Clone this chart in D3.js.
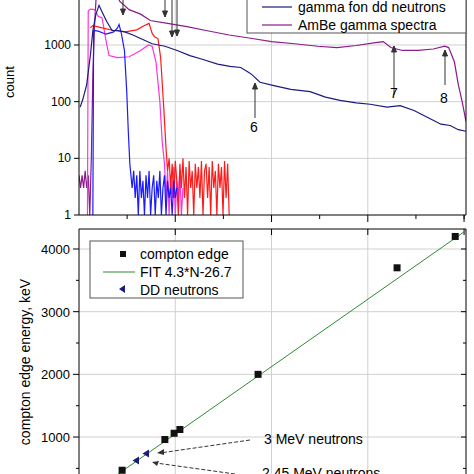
<!DOCTYPE html>
<html><head><meta charset="utf-8">
<script src="https://cdn.jsdelivr.net/npm/d3@7"></script>
<style>body{margin:0;background:#fff}svg{display:block}</style>
</head><body>
<div id="chart"></div>
<script>
// spectra: [channel, count]
const fonDD = [[3,80],[10,110],[20,200],[30,700],[36,1800],[44,3500],[52,5000],[60,3800],[72,2600],[86,1800],[100,1800],[119,1700],[140,1500],[160,1300],[190,1050],[223,950],[255,800],[288,650],[320,560],[360,460],[392,420],[420,400],[440,330],[449,300],[470,220],[509,190],[550,165],[600,150],[640,120],[678,105],[720,95],[756,90],[800,80],[834,85],[870,70],[912,50],[940,40],[964,38],[985,32],[1005,30]];
const blue = [[36,1],[38,1800],[50,1750],[70,1550],[90,1700],[100,2000],[104,2300],[110,1600],[118,800],[124,150],[128,30],[132,8],[138,3],[142,6],[146,2],[150,5],[154,1],[158,6],[162,2],[166,4],[170,1],[174,5],[178,2],[182,6],[186,1],[190,3],[194,5],[198,1],[202,4],[206,2],[210,6],[214,1],[218,3],[222,5],[226,1],[230,4],[234,2],[238,3],[242,1],[246,4],[250,2],[254,3]];
const pink = [[22,1],[24,4000],[30,4300],[40,4200],[50,3200],[60,3000],[70,1200],[78,650],[100,600],[130,620],[160,800],[180,1000],[190,950],[200,500],[210,100],[216,20],[222,8],[226,2],[230,6],[234,1],[238,5],[242,2],[246,7],[250,1],[254,4],[258,2],[262,6],[266,1],[270,3]];
const red = [[29,2000],[36,2200],[60,2000],[90,1800],[120,1700],[150,1850],[170,2200],[182,2400],[190,1600],[196,1400],[205,1300],[212,600],[220,80],[226,15],[230,6],[234,10],[238,3],[242,8],[246,2],[250,9],[254,4],[258,1],[262,8],[266,3],[270,10],[274,2],[278,7],[282,1],[286,9],[290,3],[294,6],[298,1],[302,8],[306,3],[310,7],[314,2],[318,9],[322,1],[326,6],[330,8],[334,2],[338,7],[342,1],[346,9],[350,3],[354,6],[358,1],[362,8],[366,3],[370,7],[374,1],[378,9],[382,2],[386,8],[390,1]];
const ambe = [[0,5],[4,3],[8,5],[12,3],[16,6],[20,3],[24,5],[28,1],[32,10],[36,300],[40,2000],[44,6000],[50,20000],[96,20000],[105,6000],[130,4200],[160,3500],[185,2700],[230,2400],[280,2100],[330,1800],[390,1500],[450,1300],[500,1150],[560,1050],[620,950],[670,900],[720,980],[770,1100],[790,1150],[810,900],[840,800],[880,800],[920,850],[950,950],[960,900],[975,500],[985,200],[995,100],[1005,45]];
// calibration
const comptonN = [112,223,247,262,465,826,977];
const comptonE = [470,960,1060,1120,2000,3700,4200];
const ddN = [148,174];
const ddE = [624,736];
const fitA = 4.3, fitB = -26.7;
const countTicks = [1,10,100,1000];
const energyTicks = [1000,2000,3000,4000];

const W = 474, H = 474;
const svg = d3.select("#chart").append("svg").attr("width", W).attr("height", H)
  .style("font-family", "Liberation Sans, Arial, sans-serif");

const x = d3.scaleLinear().domain([0, 1005]).range([79, 466]);
const yTop = d3.scaleLog().domain([1, 10000]).range([215, -11.7]);
const yBot = d3.scaleLinear().domain([0, 4000]).range([499.7, 249]);
const xMajor = [250, 500, 750];
const xMinor = [125, 375, 625, 875, 1000];

// === grids ===
const grid = svg.append("g").attr("stroke", "#d0d0d0").attr("stroke-width", 1);
xMajor.forEach(v => {
  grid.append("line").attr("x1", x(v)).attr("x2", x(v)).attr("y1", 0).attr("y2", 215);
  grid.append("line").attr("x1", x(v)).attr("x2", x(v)).attr("y1", 229).attr("y2", H);
});
[10, 100, 1000].forEach(v => grid.append("line").attr("x1", 79).attr("x2", 466).attr("y1", yTop(v)).attr("y2", yTop(v)));
energyTicks.forEach(v => grid.append("line").attr("x1", 79).attr("x2", 466).attr("y1", yBot(v)).attr("y2", yBot(v)));

// === top spectra ===
svg.append("clipPath").attr("id", "clipTop").append("rect").attr("x", 79).attr("y", 0).attr("width", 387).attr("height", 215);
const line = d3.line().x(d => x(d[0])).y(d => yTop(d[1]));
const spec = svg.append("g").attr("clip-path", "url(#clipTop)").attr("fill", "none").attr("stroke-width", 1.2);
[[ambe, "#8b1a8b"], [pink, "#ff33dd"], [red, "#ff1a1a"], [blue, "#1a1aff"], [fonDD, "#1a1a80"]].forEach(([d, c]) =>
  spec.append("path").datum(d).attr("d", line).attr("stroke", c));

// top axes
const topAx = svg.append("g");
topAx.append("line").attr("x1", 79).attr("x2", 79).attr("y1", 0).attr("y2", 215).attr("stroke", "#000");
topAx.append("line").attr("x1", 466).attr("x2", 466).attr("y1", 0).attr("y2", 215).attr("stroke", "#000");
topAx.append("line").attr("x1", 79).attr("x2", 466).attr("y1", 215).attr("y2", 215).attr("stroke", "#000");
countTicks.forEach(v => {
  topAx.append("line").attr("x1", 74).attr("x2", 79).attr("y1", yTop(v)).attr("y2", yTop(v)).attr("stroke", "#000");
  topAx.append("text").attr("x", 71).attr("y", yTop(v) + 4).attr("text-anchor", "end").attr("font-size", 12).text(v);
});
xMajor.concat([1000]).forEach(v => topAx.append("line").attr("x1", x(v)).attr("x2", x(v)).attr("y1", 215).attr("y2", 222).attr("stroke", "#000"));
xMinor.forEach(v => topAx.append("line").attr("x1", x(v)).attr("x2", x(v)).attr("y1", 215).attr("y2", 219).attr("stroke", "#000"));
topAx.append("text").attr("transform", "translate(14,82) rotate(-90)").attr("text-anchor", "middle").attr("font-size", 13).text("count");

// arrows top
const arr = svg.append("g").attr("stroke", "#333").attr("stroke-width", 1);
const arrow = (x1, y1, y2) => {
  arr.append("line").attr("x1", x1).attr("x2", x1).attr("y1", y1).attr("y2", y2);
  const s = y2 > y1 ? -1 : 1;
  arr.append("path").attr("d", `M${x1 - 2.5},${y2 + s * 6}L${x1},${y2}L${x1 + 2.5},${y2 + s * 6}Z`).attr("fill", "#333");
};
arrow(123, 0, 15); arrow(165, 0, 17); arrow(172, 0, 37); arrow(177, 0, 36);
arrow(255, 118, 83); arrow(394, 95, 46); arrow(445, 85, 50);
[["6", 254, 132], ["7", 394, 98], ["8", 444, 103]].forEach(([t, a, b]) =>
  svg.append("text").attr("x", a).attr("y", b).attr("text-anchor", "middle").attr("font-size", 14).text(t));

// top legend
const lg = svg.append("g");
lg.append("rect").attr("x", 247).attr("y", -20).attr("width", 219).attr("height", 53).attr("fill", "#fff").attr("stroke", "#555");
[["gamma fon dd neutrons", "#1a1a80", 7], ["AmBe gamma spectra", "#8b1a8b", 25]].forEach(([t, c, yy]) => {
  lg.append("line").attr("x1", 262).attr("x2", 292).attr("y1", yy).attr("y2", yy).attr("stroke", c).attr("stroke-width", 1.2);
  lg.append("text").attr("x", 298).attr("y", yy + 5).attr("font-size", 14).text(t);
});

// === bottom plot ===
const bot = svg.append("g");
bot.append("line").attr("x1", 79).attr("x2", 466).attr("y1", 229).attr("y2", 229).attr("stroke", "#000");
bot.append("line").attr("x1", 79).attr("x2", 79).attr("y1", 229).attr("y2", H).attr("stroke", "#000");
bot.append("line").attr("x1", 466).attr("x2", 466).attr("y1", 229).attr("y2", H).attr("stroke", "#000");
xMajor.concat([1000]).forEach(v => bot.append("line").attr("x1", x(v)).attr("x2", x(v)).attr("y1", 229).attr("y2", 235).attr("stroke", "#000"));
energyTicks.forEach(v => {
  [[73, 79], [461, 466]].forEach(([a, b]) => bot.append("line").attr("x1", a).attr("x2", b).attr("y1", yBot(v)).attr("y2", yBot(v)).attr("stroke", "#000"));
  bot.append("text").attr("x", 70).attr("y", yBot(v) + 5).attr("text-anchor", "end").attr("font-size", 13).text(v);
});
[500, 1500, 2500, 3500].forEach(v => [[76, 79], [463, 466]].forEach(([a, b]) =>
  bot.append("line").attr("x1", a).attr("x2", b).attr("y1", yBot(v)).attr("y2", yBot(v)).attr("stroke", "#000")));
bot.append("text").attr("transform", "translate(30,362) rotate(-90)").attr("text-anchor", "middle").attr("font-size", 14).text("compton edge energy, keV");

svg.append("clipPath").attr("id", "clipBot").append("rect").attr("x", 79).attr("y", 229).attr("width", 387).attr("height", 245);
const bp = svg.append("g").attr("clip-path", "url(#clipBot)");
bp.append("line").attr("x1", x(0)).attr("x2", x(1005))
  .attr("y1", yBot(fitB)).attr("y2", yBot(fitA * 1005 + fitB)).attr("stroke", "#2e8b2e").attr("stroke-width", 1);
bp.selectAll("rect.c").data(comptonN).enter().append("rect")
  .attr("x", d => x(d) - 3.5).attr("y", (d, i) => yBot(comptonE[i]) - 3.5).attr("width", 7).attr("height", 7).attr("fill", "#111");
bp.selectAll("path.dd").data(ddN).enter().append("path")
  .attr("d", (d, i) => `M${x(d) - 3.5},${yBot(ddE[i])}L${x(d) + 3},${yBot(ddE[i]) - 4}L${x(d) + 3},${yBot(ddE[i]) + 4}Z`).attr("fill", "#1a1a80");

// annotations
const an = svg.append("g").attr("stroke", "#333").attr("stroke-dasharray", "4,2");
an.append("line").attr("x1", 250).attr("y1", 440).attr("x2", 160).attr("y2", 453);
an.append("line").attr("x1", 235).attr("y1", 474).attr("x2", 156).attr("y2", 463);
svg.append("path").attr("d", "M157,453l7,-4l0,6z").attr("fill", "#333");
svg.append("path").attr("d", "M152,462l7,-1l-2,5z").attr("fill", "#333");
svg.append("text").attr("x", 264).attr("y", 444).attr("font-size", 14).text("3 MeV neutrons");
svg.append("text").attr("x", 262).attr("y", 478).attr("font-size", 14).text("2.45 MeV neutrons");

// bottom legend
const bl = svg.append("g");
bl.append("rect").attr("x", 90).attr("y", 241).attr("width", 153).attr("height", 57).attr("fill", "#fff").attr("stroke", "#555");
bl.append("rect").attr("x", 120).attr("y", 251).attr("width", 6).attr("height", 6).attr("fill", "#111");
bl.append("line").attr("x1", 103).attr("x2", 135).attr("y1", 272).attr("y2", 272).attr("stroke", "#2e8b2e");
bl.append("path").attr("d", "M119,289L125,285L125,293Z").attr("fill", "#1a1a80");
[["compton edge", 259], ["FIT 4.3*N-26.7", 277], ["DD neutrons", 295]].forEach(([t, yy]) =>
  bl.append("text").attr("x", 140).attr("y", yy).attr("font-size", 14).text(t));
</script>
</body></html>
